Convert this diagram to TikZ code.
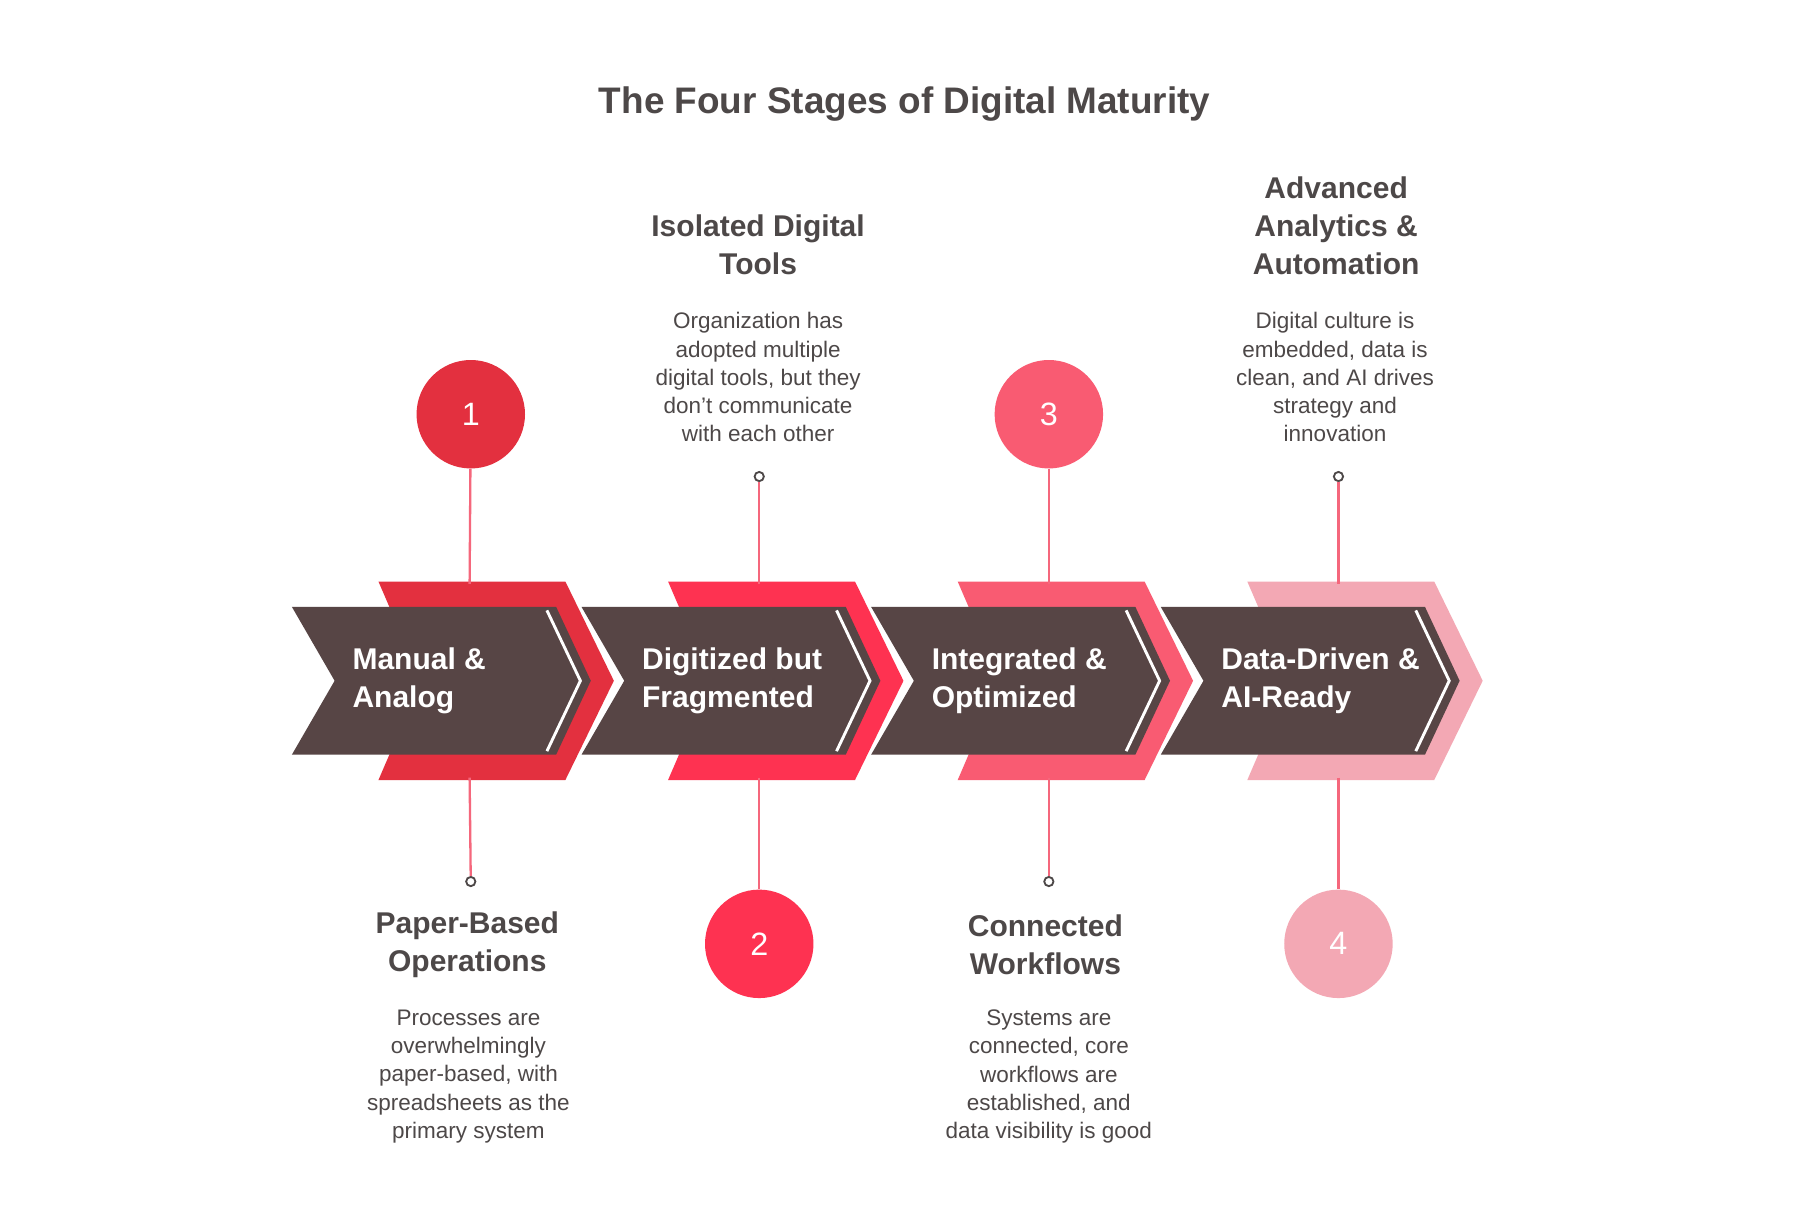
\documentclass[tikz,border=0pt]{standalone}
\usepackage{fontspec}
\setmainfont{Liberation Sans}
\begin{document}
\begin{tikzpicture}[x=1pt,y=-1pt,
  ttl/.style={text=txtgray,font=\fontsize{26}{33}\selectfont\bfseries,align=center},
  desc/.style={text=txtgray,font=\fontsize{19.5}{24.5}\selectfont,align=center},
  lab/.style={text=white,font=\fontsize{26}{33}\selectfont\bfseries,align=left,anchor=west},
  num/.style={circle,minimum size=94pt,inner sep=0pt,text=white,font=\fontsize{28}{30}\selectfont},
  conn/.style={draw=linepink,line width=2pt},
  ring/.style={circle,draw=txtgray,line width=1.6pt,fill=white,minimum size=8pt,inner sep=0pt}]
\definecolor{txtgray}{HTML}{4D4848}
\definecolor{dark}{HTML}{574545}
\definecolor{cA}{HTML}{E3303F}
\definecolor{cB}{HTML}{FE3251}
\definecolor{cC}{HTML}{F95B72}
\definecolor{cD}{HTML}{F3A8B4}
\definecolor{linepink}{HTML}{F5677C}
\useasboundingbox (0,0) rectangle (1560,1059);
\fill[white] (0,0) rectangle (1560,1059);
\node[text=txtgray,font=\fontsize{32}{38}\selectfont\bfseries] (title) at (784,90) {The Four Stages of Digital Maturity};
% stages
\foreach \i/\c in {0/cA,1/cB,2/cC,3/cD}{
  \begin{scope}[xshift=\i*251]
  \fill[\c] (328,504) -- (490,504) -- (532,590) -- (490,676) -- (328,676) -- (365,590) -- cycle;
  \fill[dark] (253,526) -- (482,526) -- (512,590) -- (482,654) -- (253,654) -- (290,590) -- cycle;
  \draw[white,line width=2.5pt] (474,529) -- (503,590) -- (474,651);
  \end{scope}
}
\coordinate (t1) at (407,506); \coordinate (b1) at (407,674);
\coordinate (t2) at (658,506); \coordinate (b2) at (658,674);
\coordinate (t3) at (909,506); \coordinate (b3) at (909,674);
\coordinate (t4) at (1160,506); \coordinate (b4) at (1160,674);
\node[lab] (l1) at (302,590) {Manual \&\\Analog};
\node[lab] (l2) at (553,590) {Digitized but\\Fragmented};
\node[lab] (l3) at (804,590) {Integrated \&\\Optimized};
\node[lab] (l4) at (1055,590) {Data-Driven \&\\AI-Ready};
% circles
\node[num,fill=cA] (n1) at (408,359) {1};
\node[num,fill=cB] (n2) at (658,818) {2};
\node[num,fill=cC] (n3) at (909,359) {3};
\node[num,fill=cD] (n4) at (1160,818) {4};
\node[ring] (r1) at (408,764) {};
\node[ring] (r2) at (658,413) {};
\node[ring] (r3) at (909,764) {};
\node[ring] (r4) at (1160,413) {};
\draw[conn] (n1) -- (t1); \draw[conn] (b1) -- (r1);
\draw[conn] (r2) -- (t2); \draw[conn] (b2) -- (n2);
\draw[conn] (n3) -- (t3); \draw[conn] (b3) -- (r3);
\draw[conn] (r4) -- (t4); \draw[conn] (b4) -- (n4);
% texts
\node[ttl] (h1) at (405,819) {Paper-Based\\Operations};
\node[desc] (d1) at (406,933) {Processes are\\overwhelmingly\\paper-based, with\\spreadsheets as the\\primary system};
\node[ttl] (h2) at (657,212) {Isolated Digital\\Tools};
\node[desc] (d2) at (657,327) {Organization has\\adopted multiple\\digital tools, but they\\don't communicate\\with each other};
\node[ttl] (h3) at (906,819) {Connected\\Workflows};
\node[desc] (d3) at (909,933) {Systems are\\connected, core\\workflows are\\established, and\\data visibility is good};
\node[ttl] (h4) at (1158,196) {Advanced\\Analytics \&\\Automation};
\node[desc] (d4) at (1157,327) {Digital culture is\\embedded, data is\\clean, and AI drives\\strategy and\\innovation};
\end{tikzpicture}
\end{document}
